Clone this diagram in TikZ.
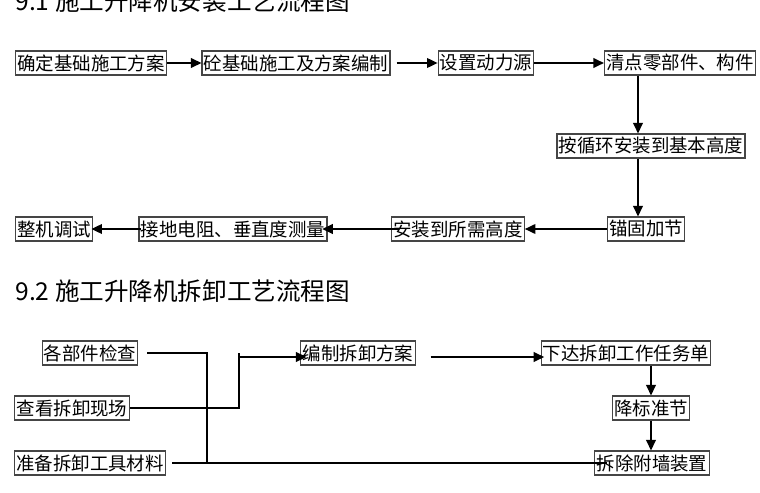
\documentclass[tikz,border=0pt]{standalone}
\usepackage{fontspec}
\setmainfont{Noto Sans CJK SC}
\usetikzlibrary{arrows.meta}
\definecolor{boxline}{HTML}{454545}

\begin{document}
\begin{tikzpicture}[>={Triangle[length=6pt,width=5.5pt]}, x=0.02cm, y=-0.02cm,
  box/.style={draw=boxline, line width=0.6pt, inner xsep=1pt, inner ysep=0pt,
    minimum height=0.48cm, font=\fontsize{10.5}{12}\selectfont},
  heading/.style={anchor=west, inner sep=0pt, font=\fontsize{14}{16}\selectfont},
  link/.style={black, line width=0.9pt},
  flow/.style={link, ->}]

  \useasboundingbox (0,0) rectangle (760,493);

  % --- Titles ---
  \node[heading] (title1) at (15,1) {9.1 施工升降机安装工艺流程图};
  \node[heading] (title2) at (15,291) {9.2 施工升降机拆卸工艺流程图};

  % --- Installation flow ---
  \node[box] (base)   at (91,63)   {确定基础施工方案};
  \node[box] (found)  at (296,63)  {砼基础施工及方案编制};
  \node[box] (power)  at (486,63)  {设置动力源};
  \node[box] (parts)  at (680,63)  {清点零部件、构件};
  \node[box] (cycle)  at (651,146) {按循环安装到基本高度};
  \node[box] (tie)    at (646,229) {锚固加节};
  \node[box] (height) at (458,229) {安装到所需高度};
  \node[box] (ground) at (233,229) {接地电阻、垂直度测量};
  \node[box] (debug)  at (54,229)  {整机调试};
  \coordinate (col) at (638,100);

  \draw[flow] (base) -- (found);
  \draw[flow] (found.east) ++(6,0) -- (power);
  \draw[flow] (power) -- (parts);
  \draw[flow] (parts.south -| col) -- (cycle.north -| col);
  \draw[flow] (cycle.south -| col) -- (tie.north -| col);
  \draw[flow] (tie) -- (height);
  \draw[flow] (height.west) ++(8,0) -- ([xshift=-3pt]ground.east);
  \draw[flow] (ground.west) ++(3,0) -- ([xshift=-1pt]debug.east);

  % --- Dismantling flow ---
  \node[box] (check) at (90,353)  {各部件检查};
  \node[box] (site)  at (72,408)  {查看拆卸现场};
  \node[box] (tools) at (90,463)  {准备拆卸工具材料};
  \node[box] (plan)  at (358,353) {编制拆卸方案\hspace{0.5em}};
  \node[box] (order) at (626,353) {下达拆卸工作任务单};
  \node[box] (lower) at (651,408) {降标准节};
  \node[box] (wall)  at (652,463) {拆除附墙装置};
  \coordinate (join)   at (207,463);
  \coordinate (bend)   at (239,357);
  \coordinate (wallin) at (607,463);

  \draw[link] (check.east) ++(9,0) -| (join);
  \draw[link] (tools.east) ++(6,0) -- (wallin);
  \draw[link] (site) -| (bend) -- ++(0,-4);
  \draw[flow, shorten >=-3.5pt] (bend) -- (plan.west |- bend);
  \draw[flow, shorten >=-2pt] (plan.east |- bend) ++(15,0) -- (order.west |- bend);
  \draw[flow] (order.south -| lower) -- (lower);
  \draw[flow] (lower.south) -- (lower.south |- wall.north);

\end{tikzpicture}
\end{document}
